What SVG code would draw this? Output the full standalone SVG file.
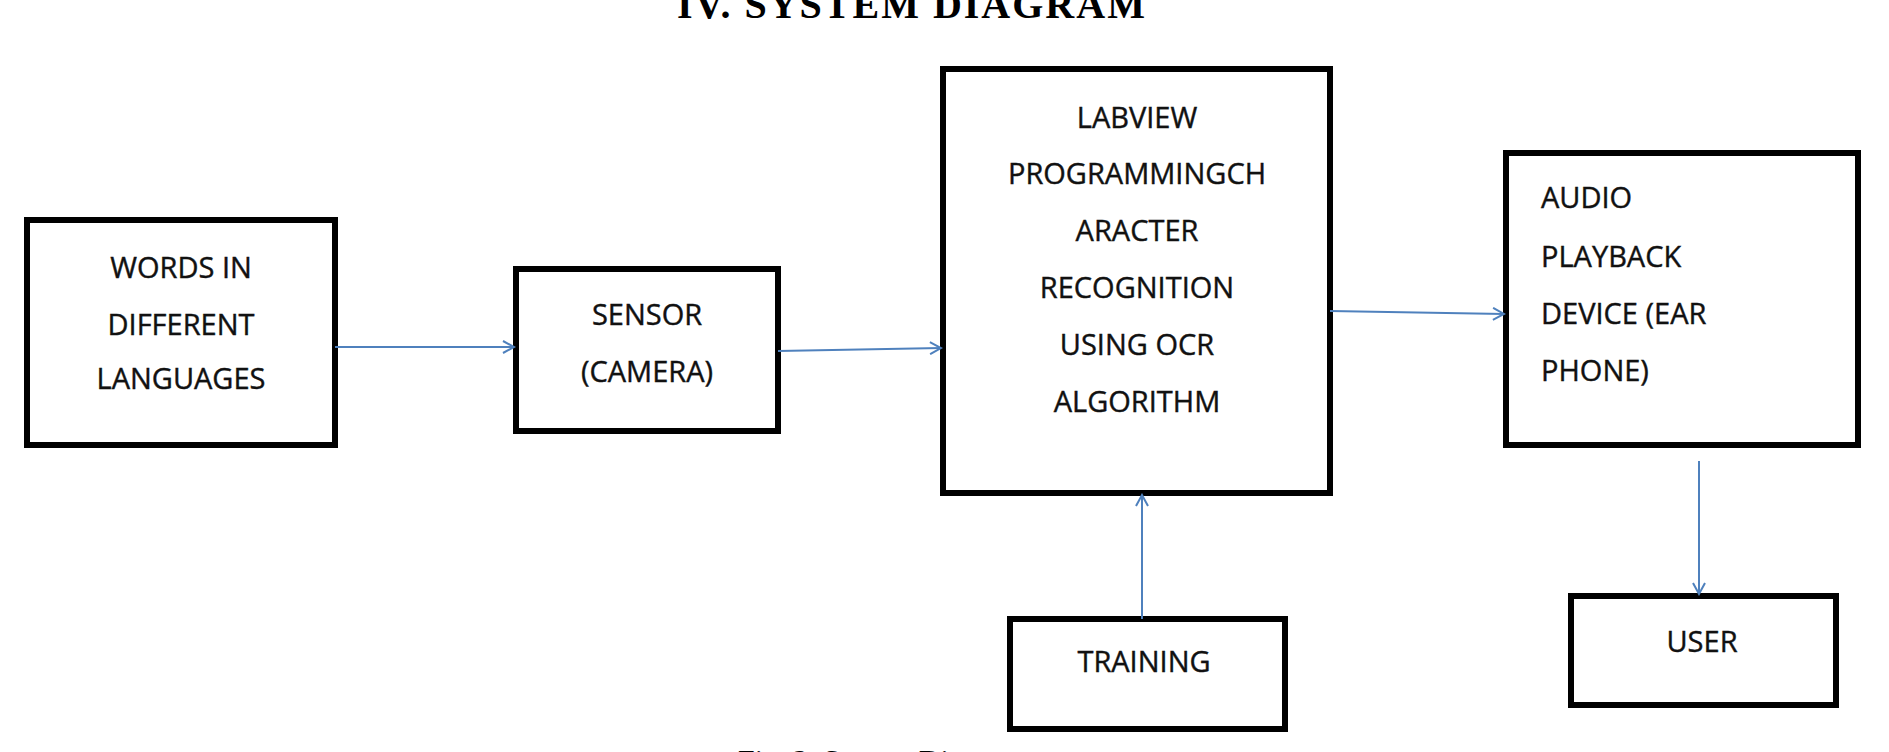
<svg xmlns="http://www.w3.org/2000/svg" width="1889" height="752" viewBox="0 0 1889 752">
<style>
.b{fill:#fff;stroke:#000;stroke-width:6}
.t{font-family:"Open Sans","Liberation Sans",sans-serif;font-size:29px;fill:#111;dominant-baseline:central;stroke:#111;stroke-width:0.4}
.c{stroke:#4f81bd;stroke-width:2;fill:none;marker-end:url(#a)}
</style>
<defs><marker id="a" markerWidth="14" markerHeight="14" refX="12" refY="7" orient="auto" markerUnits="userSpaceOnUse"><path d="M1,1 L12,7 L1,13" fill="none" stroke="#4f81bd" stroke-width="2"/></marker></defs>
<rect width="1889" height="752" fill="#fff"/>
<text x="912" y="18" text-anchor="middle" font-family="Liberation Serif,serif" font-weight="bold" font-size="40" letter-spacing="2">IV. SYSTEM DIAGRAM</text>
<g id="words"><rect class="b" x="27" y="220" width="308" height="225"/>
<text class="t" text-anchor="middle"><tspan x="181" y="266">WORDS IN</tspan><tspan x="181" y="323">DIFFERENT</tspan><tspan x="181" y="377">LANGUAGES</tspan></text></g>
<g id="sensor"><rect class="b" x="516" y="269" width="262" height="162"/>
<text class="t" text-anchor="middle"><tspan x="647" y="313">SENSOR</tspan><tspan x="647" y="370">(CAMERA)</tspan></text></g>
<g id="labview"><rect class="b" x="943" y="69" width="387" height="424"/>
<text class="t" text-anchor="middle"><tspan x="1137" y="116">LABVIEW</tspan><tspan x="1137" y="172">PROGRAMMINGCH</tspan><tspan x="1137" y="229">ARACTER</tspan><tspan x="1137" y="286">RECOGNITION</tspan><tspan x="1137" y="343">USING OCR</tspan><tspan x="1137" y="400">ALGORITHM</tspan></text></g>
<g id="audio"><rect class="b" x="1506" y="153" width="352" height="292"/>
<text class="t"><tspan x="1541" y="196">AUDIO</tspan><tspan x="1541" y="255">PLAYBACK</tspan><tspan x="1541" y="312">DEVICE (EAR</tspan><tspan x="1541" y="369">PHONE)</tspan></text></g>
<g id="training"><rect class="b" x="1010" y="619" width="275" height="110"/>
<text class="t" text-anchor="middle" x="1144" y="660">TRAINING</text></g>
<g id="user"><rect class="b" x="1571" y="596" width="265" height="109"/>
<text class="t" text-anchor="middle" x="1702" y="640">USER</text></g>
<g id="connectors">
<line class="c" x1="335" y1="347" x2="514" y2="347"/>
<line class="c" x1="778" y1="351" x2="941" y2="348"/>
<line class="c" x1="1330" y1="311" x2="1504" y2="314"/>
<line class="c" x1="1142" y1="619" x2="1142" y2="495"/>
<line class="c" x1="1699" y1="461" x2="1699" y2="594"/>
</g>
<text x="738" y="770" font-family="Liberation Serif,serif" font-size="30">Fig. 2. System Diagram</text>
</svg>
